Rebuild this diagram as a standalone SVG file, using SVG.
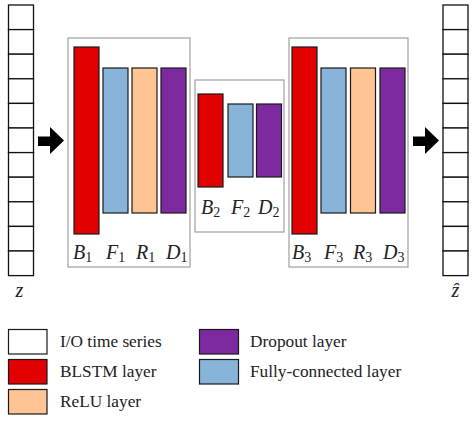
<svg xmlns="http://www.w3.org/2000/svg" width="474" height="422" viewBox="0 0 474 422">
<style>
.cell{fill:#fff;stroke:#111;stroke-width:1.3}
.box{fill:#fff;stroke:#a0a0a0;stroke-width:1.2}
.bar{stroke:#1a1a1a;stroke-width:1.2}
.red{fill:#E20000}
.blue{fill:#88B4DA}
.peach{fill:#FFC493}
.purple{fill:#7D2AA0}
.lbl{font-family:"Liberation Serif",serif;font-style:italic;font-size:20px;fill:#222}
.sub{font-style:normal;font-size:14px}
.leg{font-family:"Liberation Serif",serif;font-size:17.3px;fill:#222}
.arrow{fill:#000}
</style>
<defs>
<g id="col">
<rect class="cell" x="0" y="0" width="25" height="24.6"/>
<rect class="cell" x="0" y="24.6" width="25" height="24.6"/>
<rect class="cell" x="0" y="49.2" width="25" height="24.6"/>
<rect class="cell" x="0" y="73.8" width="25" height="24.6"/>
<rect class="cell" x="0" y="98.4" width="25" height="24.6"/>
<rect class="cell" x="0" y="123" width="25" height="24.6"/>
<rect class="cell" x="0" y="147.6" width="25" height="24.6"/>
<rect class="cell" x="0" y="172.2" width="25" height="24.6"/>
<rect class="cell" x="0" y="196.8" width="25" height="24.6"/>
<rect class="cell" x="0" y="221.4" width="25" height="24.6"/>
<rect class="cell" x="0" y="246" width="25" height="24.6"/>
</g>
</defs>
<rect width="474" height="422" fill="#fff"/>

<g id="input">
<use href="#col" x="8.5" y="5"/>
<text class="lbl" x="15.5" y="297">z</text>
</g>

<g id="output">
<use href="#col" x="443" y="5"/>
<text class="lbl" x="451.5" y="297">ẑ</text>
</g>

<g id="block1">
<rect class="box" x="68" y="38" width="122" height="229"/>
<rect class="bar red" x="74" y="47" width="25" height="187"/>
<rect class="bar blue" x="103" y="68" width="25" height="145"/>
<rect class="bar peach" x="132" y="68" width="25" height="145"/>
<rect class="bar purple" x="161" y="68" width="25" height="145"/>
<text class="lbl" x="73" y="259">B<tspan class="sub" dy="3">1</tspan></text>
<text class="lbl" x="106" y="259">F<tspan class="sub" dy="3">1</tspan></text>
<text class="lbl" x="136" y="259">R<tspan class="sub" dy="3">1</tspan></text>
<text class="lbl" x="166" y="259">D<tspan class="sub" dy="3">1</tspan></text>
</g>

<g id="block2">
<rect class="box" x="195" y="80" width="89" height="152"/>
<rect class="bar red" x="198" y="94" width="25" height="93"/>
<rect class="bar blue" x="228" y="104" width="25" height="73"/>
<rect class="bar purple" x="256.5" y="104" width="25" height="73"/>
<text class="lbl" x="201" y="214">B<tspan class="sub" dy="3">2</tspan></text>
<text class="lbl" x="231" y="214">F<tspan class="sub" dy="3">2</tspan></text>
<text class="lbl" x="258" y="214">D<tspan class="sub" dy="3">2</tspan></text>
</g>

<g id="block3">
<rect class="box" x="289" y="38" width="119" height="229"/>
<rect class="bar red" x="292" y="47" width="25" height="187"/>
<rect class="bar blue" x="321" y="68" width="25" height="145"/>
<rect class="bar peach" x="350.5" y="68" width="25" height="145"/>
<rect class="bar purple" x="380" y="68" width="25" height="145"/>
<text class="lbl" x="292" y="259">B<tspan class="sub" dy="3">3</tspan></text>
<text class="lbl" x="324" y="259">F<tspan class="sub" dy="3">3</tspan></text>
<text class="lbl" x="353" y="259">R<tspan class="sub" dy="3">3</tspan></text>
<text class="lbl" x="383" y="259">D<tspan class="sub" dy="3">3</tspan></text>
</g>

<g id="connectors">
<polygon class="arrow" points="38,136.5 50,136.5 50,127 64,140.5 50,154 50,146 38,146"/>
<polygon class="arrow" points="413,136.5 425,136.5 425,127 439,140.5 425,154 425,146 413,146"/>
</g>

<g id="legend">
<rect class="bar" x="8.5" y="329.5" width="38.5" height="24.5" fill="#fff"/>
<text class="leg" x="60" y="347">I/O time series</text>
<rect class="bar red" x="8.5" y="359.5" width="38.5" height="24.5"/>
<text class="leg" x="60" y="377">BLSTM layer</text>
<rect class="bar peach" x="8.5" y="389.5" width="38.5" height="24.5"/>
<text class="leg" x="60" y="407">ReLU layer</text>
<rect class="bar purple" x="199.5" y="329.5" width="39" height="24.5"/>
<text class="leg" x="250" y="347">Dropout layer</text>
<rect class="bar blue" x="199.5" y="359.5" width="39" height="24.5"/>
<text class="leg" x="250" y="377">Fully-connected layer</text>
</g>
</svg>
